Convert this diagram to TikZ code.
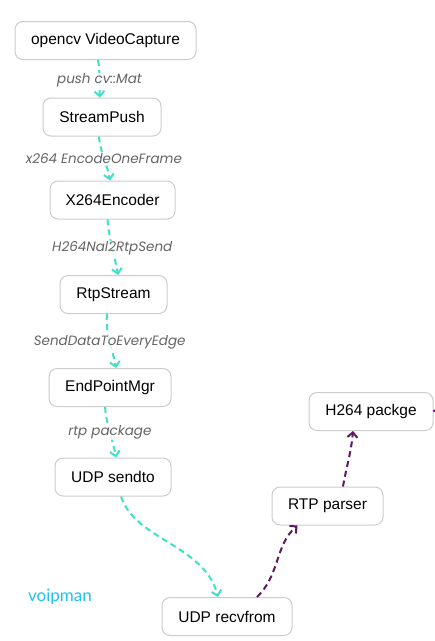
\documentclass[tikz,border=0pt]{standalone}
\usepackage{fontspec}
\setmainfont{Liberation Sans}
\newfontfamily\labelfont{Poppins}
\newfontfamily\titlefont{Lato}
\usepackage{tikz}
\usetikzlibrary{arrows.meta,positioning,calc}
\definecolor{flowTeal}{RGB}{64, 224, 200}
\definecolor{flowPurple}{RGB}{94, 23, 96}
\definecolor{boxGray}{RGB}{204, 204, 204}
\definecolor{labelGray}{RGB}{100, 100, 100}
\definecolor{titleBlue}{RGB}{32, 192, 240}

\begin{document}
\begin{tikzpicture}[
        x=1pt, y=-1pt,
        module/.style={rectangle, draw=boxGray, fill=white, line width=1pt, rounded corners=8pt, minimum height=38pt, inner sep=0pt, align=center, font=\fontsize{15.5}{18}\selectfont},
        call/.style={font=\labelfont\itshape\fontsize{13.5}{16}\selectfont, text=labelGray, fill=white, fill opacity=0.8, text opacity=1, inner sep=1pt},
        send/.style={-{Straight Barb[length=5pt,width=10pt]}, line width=2pt, flowTeal, dash pattern=on 6pt off 4pt},
        recv/.style={-{Straight Barb[length=5pt,width=10pt]}, line width=2pt, flowPurple, dash pattern=on 6pt off 4pt}
    ]
        \useasboundingbox (0,0) rectangle (435,641);

        % Sender pipeline
        \node[module, minimum width=181pt] (capture) at (105.5,40.5) {opencv VideoCapture};
        \node[module, minimum width=118pt] (push) at (102,117) {StreamPush};
        \node[module, minimum width=125pt] (encoder) at (112.5,200) {X264Encoder};
        \node[module, minimum width=107pt] (rtpstream) at (113.5,294.5) {RtpStream};
        \node[module, minimum width=122pt] (endpoint) at (110,387.5) {EndPointMgr};
        \node[module, minimum width=116pt] (sendto) at (113,477) {UDP sendto};

        % Receiver side
        \node[module, minimum width=130pt] (recvfrom) at (227,616.5) {UDP recvfrom};
        \node[module, minimum width=111pt] (parser) at (327.5,506) {RTP parser};
        \node[module, minimum width=124pt] (h264) at (371,411.5) {H264 packge};
        \coordinate (outside) at (435,410);

        % Title
        \node[font=\titlefont\fontsize{17}{20}\selectfont, text=titleBlue] (title) at (60,597) {voipman};

        % Sender flow arrows
        \draw[send] ([xshift=-7.5pt]capture.south) to[out=-80, in=95]
            node[call, pos=0.55] {push cv::Mat} ([xshift=-2pt]push.north);
        \draw[send] ([xshift=-3pt]push.south) to[out=-85, in=100]
            node[call, pos=0.5] {x264 EncodeOneFrame} ([xshift=-2.5pt]encoder.north);
        \draw[send] ([xshift=-5pt]encoder.south) to[out=-85, in=100]
            node[call, pos=0.52] {H264Nal2RtpSend} ([xshift=4.5pt]rtpstream.north);
        \draw[send] ([xshift=-6.5pt]rtpstream.south) to[out=-95, in=100]
            node[call, pos=0.52] {SendDataToEveryEdge} ([xshift=6pt]endpoint.north);
        \draw[send] ([xshift=-5pt]endpoint.south) to[out=-85, in=100]
            node[call, pos=0.5] {rtp package} ([xshift=3pt]sendto.north);

        % Network hop
        \draw[send] ([xshift=8pt]sendto.south) .. controls (135,540) and (205,545) .. ([xshift=-9pt]recvfrom.north);

        % Receiver flow arrows
        \draw[recv] ([xshift=30pt]recvfrom.north) .. controls (280,575) and (275,545) .. ([xshift=-30pt]parser.south);
        \draw[recv] ([xshift=15.5pt]parser.north) to[out=80, in=-95] ([xshift=-18pt]h264.south);
        \draw[recv, -] (h264.east) -- (outside);

    \end{tikzpicture}
\end{document}
